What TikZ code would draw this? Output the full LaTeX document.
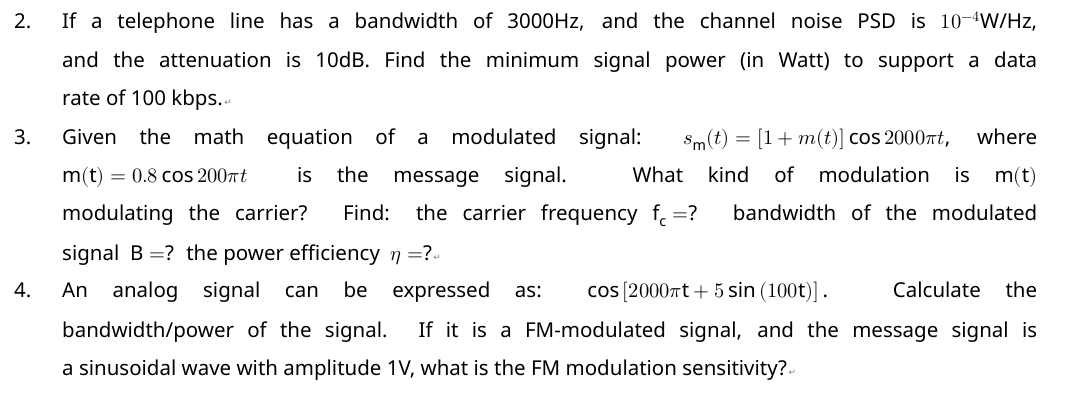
\documentclass[tikz,border=0pt]{standalone}
\usepackage{fontspec}
\usepackage{unicode-math}
\setmainfont{Noto Sans}
\setmathfont{Latin Modern Math}
\newfontfamily\dv{DejaVu Sans}
\begin{document}
\begin{tikzpicture}[x=1pt,y=-1pt,
  ln/.style={anchor=base west,inner sep=0pt,font=\fontsize{20.5}{24}\selectfont},
  num/.style={anchor=base west,inner sep=0pt,font=\fontsize{20.5}{24}\selectfont}]
\useasboundingbox (0,0) rectangle (1080,409);
\def\ret{{\dv\fontsize{9}{9}\selectfont\color{gray}\,↵}}
\def\J#1{\makebox[975pt][s]{#1}}
\def\M#1{\mbox{$#1$}}
\node[num] (n2) at (14,29) {2.};
\node[ln] (l1) at (62,29) {\J{If a telephone line has a bandwidth of 3000Hz, and the channel noise PSD is \M{10^{-4}}W/Hz,}};
\node[ln] (l2) at (62,68) {\J{and the attenuation is 10dB. Find the minimum signal power (in Watt) to support a data}};
\node[ln] (l3) at (62,106) {rate of 100 kbps.\ret};
\node[num] (n3) at (14,145) {3.};
\node[ln] (l4) at (62,145) {\J{Given the math equation of a modulated signal: \M{s_{\mathrm{m}}(t)=[1+m(t)]\cos 2000\pi t}, where}};
\node[ln] (l5) at (62,183) {\J{\M{\mathrm{m(t)}=0.8\cos 200\pi t} \ is the message signal. What kind of modulation is \M{\mathrm{m(t)}}}};
\node[ln] (l6) at (62,221) {\J{modulating the carrier? Find: the carrier frequency \M{\mathrm{f_c}=}? bandwidth of the modulated}};
\node[ln] (l7) at (62,260) {signal \ \M{\mathrm{B}=}? \ the power efficiency \ \M{\eta=}?\ret};
\node[num] (n4) at (14,298) {4.};
\node[ln] (l8) at (62,298) {\J{An analog signal can be expressed as: \M{\cos\,[2000\pi\mathrm{t}+5\sin\,(100\mathrm{t})]}\,. Calculate the}};
\node[ln] (l9) at (62,337) {\J{bandwidth/power of the signal. If it is a FM-modulated signal, and the message signal is}};
\node[ln] (l10) at (62,375) {a sinusoidal wave with amplitude 1V, what is the FM modulation sensitivity?\ret};
\end{tikzpicture}
\end{document}
